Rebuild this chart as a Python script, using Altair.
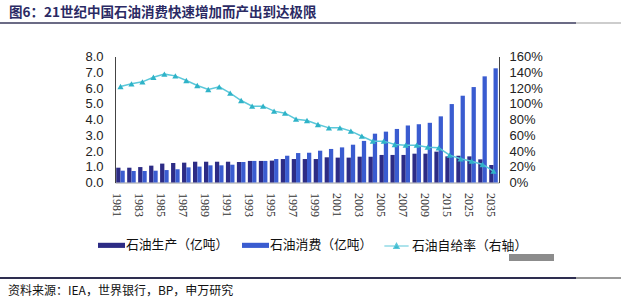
import altair as alt
import pandas as pd

# Category axis: annual 1981-2010, then five-year projections
years = [str(y) for y in range(1981, 2011)] + ["2015", "2020", "2025", "2030", "2035"]
tick_years = [str(y) for y in range(1981, 2010, 2)] + ["2015", "2025", "2035"]

# Oil production and consumption, 100 million tonnes
production = [0.94, 0.94, 0.98, 1.07, 1.20, 1.24, 1.26, 1.32, 1.32, 1.32,
              1.32, 1.30, 1.37, 1.37, 1.39, 1.49, 1.49, 1.49, 1.49, 1.60,
              1.58, 1.58, 1.64, 1.64, 1.75, 1.75, 1.75, 1.83, 1.83, 1.96,
              1.66, 1.70, 1.66, 1.47, 1.11]
consumption = [0.75, 0.73, 0.73, 0.75, 0.79, 0.84, 0.96, 1.01, 1.09, 1.09,
               1.13, 1.30, 1.37, 1.37, 1.49, 1.70, 1.87, 1.89, 2.02, 2.13,
               2.23, 2.40, 2.64, 3.10, 3.23, 3.40, 3.62, 3.70, 3.79, 4.20,
               4.98, 5.51, 6.06, 6.74, 7.25]
# Self-sufficiency ratio, percent (right axis)
self_sufficiency = [121.9, 125.3, 127.8, 133.7, 137.6, 135.4, 129.5, 123.2, 118.1, 121.5,
                    113.4, 104.1, 96.9, 96.9, 90.6, 88.0, 80.4, 78.7, 73.7, 69.4,
                    69.4, 65.2, 58.8, 52.5, 52.5, 48.3, 47.4, 47.4, 44.9, 44.0,
                    34.7, 30.1, 27.1, 22.9, 14.4]

PROD = "石油生产（亿吨）"
CONS = "石油消费（亿吨）"
RATIO = "石油自给率（右轴）"
TITLE = "图6：21世纪中国石油消费快速增加而产出到达极限"
SOURCE = "资料来源：IEA，世界银行，BP，申万研究"

n = len(years)
bars_df = pd.DataFrame({
    "year": years * 2,
    "series": [PROD] * n + [CONS] * n,
    "value": production + consumption,
})
ratio_df = pd.DataFrame({
    "year": years,
    "series": [RATIO] * n,
    "ratio": [v / 100 for v in self_sufficiency],
})

C_PROD, C_CONS, C_LINE, C_TRI = "#2d2c85", "#3a5cd0", "#5cc8da", "#2fb3c8"

legend_common = dict(
    title=None, orient="none", direction="horizontal", padding=0, symbolSize=729,
    labelFont="Noto Sans CJK SC", labelFontSize=12.8, labelColor="#111111",
    labelOffset=1, columnPadding=13,
)

bar_legend = alt.Legend(
    legendX=-17, legendY=175, columns=2,
    symbolType="M-1,-0.19L1,-0.19L1,0.19L-1,0.19Z", symbolStrokeWidth=0,
    **legend_common,
)
line_legend = alt.Legend(
    legendX=267, legendY=175, columns=1,
    symbolType="M-0.9,0L0.9,0M-0.2,0.17L0,-0.2L0.2,0.17Z",
    symbolFillColor=C_TRI, symbolStrokeWidth=1.2,
    **legend_common,
)

x_enc = alt.X(
    "year:N", sort=years,
    scale=alt.Scale(paddingInner=0.22, paddingOuter=0.11),
    axis=alt.Axis(values=tick_years, labelAngle=90, title=None,
                  labelFont="Liberation Serif", labelFontSize=12, labelColor="#333333",
                  ticks=False, domainColor="#9a9a9a", labelPadding=10, labelOffset=-3,
                  labelOverlap=False),
)

bars = alt.Chart(bars_df).mark_bar().encode(
    x=x_enc,
    xOffset=alt.XOffset("series:N", sort=[PROD, CONS],
                        scale=alt.Scale(paddingInner=0, paddingOuter=0)),
    y=alt.Y("value:Q", scale=alt.Scale(domain=[0, 8]),
            axis=alt.Axis(orient="left", values=list(range(0, 9)), format=".1f", title=None,
                          labelFont="Liberation Sans", labelFontSize=13, labelColor="#222222",
                          ticks=False, labelPadding=12, domainColor="#444444", grid=False,
                          labelOverlap=False)),
    color=alt.Color("series:N", scale=alt.Scale(domain=[PROD, CONS], range=[C_PROD, C_CONS]),
                    legend=bar_legend),
)

ratio_axis = alt.Axis(orient="right", values=[0, 0.2, 0.4, 0.6, 0.8, 1.0, 1.2, 1.4, 1.6],
                      format=".0%", title=None, labelFont="Liberation Sans", labelFontSize=13,
                      labelColor="#222222", ticks=False, labelPadding=10,
                      domainColor="#444444", grid=False, labelOverlap=False)
ratio_y = alt.Y("ratio:Q", scale=alt.Scale(domain=[0, 1.6]), axis=ratio_axis)

line = alt.Chart(ratio_df).mark_line(strokeWidth=1.5).encode(
    x=alt.X("year:N", sort=years),
    y=ratio_y,
    stroke=alt.Stroke("series:N", scale=alt.Scale(domain=[RATIO], range=[C_LINE]),
                      legend=line_legend),
)
points = alt.Chart(ratio_df).mark_point(shape="triangle-up", filled=True, size=38,
                                        color=C_TRI, opacity=1).encode(
    x=alt.X("year:N", sort=years),
    y=ratio_y,
)

one = pd.DataFrame({"k": [0]})

title_text = alt.Chart(pd.DataFrame({"t": [TITLE]})).mark_text(
    align="left", baseline="middle", font="Noto Sans CJK SC", fontSize=13.5,
    fontWeight="bold", color="#2b2a64",
).encode(x=alt.value(-106), y=alt.value(-43.5), text="t:N")

source_text = alt.Chart(pd.DataFrame({"t": [SOURCE]})).mark_text(
    align="left", baseline="middle", font="Noto Sans CJK SC", fontSize=12, color="#111111",
).encode(x=alt.value(-107), y=alt.value(234.5), text="t:N")

top_rule = alt.Chart(one).mark_rule(color="#3a3a5c", strokeWidth=1.5).encode(
    x=alt.value(-115), x2=alt.value(461), y=alt.value(-33.5))
top_rule_end = alt.Chart(one).mark_rule(color="#bdbdbd", strokeWidth=1.5).encode(
    x=alt.value(461), x2=alt.value(506), y=alt.value(-33.5))
bottom_rule = alt.Chart(one).mark_rule(color="#2e2e50", strokeWidth=2).encode(
    x=alt.value(-115), x2=alt.value(461), y=alt.value(221.5))
bottom_rule_end = alt.Chart(one).mark_rule(color="#9a9a9a", strokeWidth=2).encode(
    x=alt.value(461), x2=alt.value(506), y=alt.value(221.5))
gray_block = alt.Chart(one).mark_rect(color="#8c8c8c").encode(
    x=alt.value(394), x2=alt.value(439), y=alt.value(197.5), y2=alt.value(204.5))

chart = alt.layer(
    bars, alt.layer(line, points),
    title_text, source_text, top_rule, top_rule_end, bottom_rule, bottom_rule_end, gray_block,
).resolve_scale(y="independent").properties(
    width=384, height=126,
    padding={"left": 115, "top": 56.5, "right": 122, "bottom": 115.5},
    autosize=alt.AutoSizeParams(type="none"),
    background="white",
).configure_view(strokeWidth=0)

chart.save("out.html", embed_options={"renderer": "svg", "actions": False})
